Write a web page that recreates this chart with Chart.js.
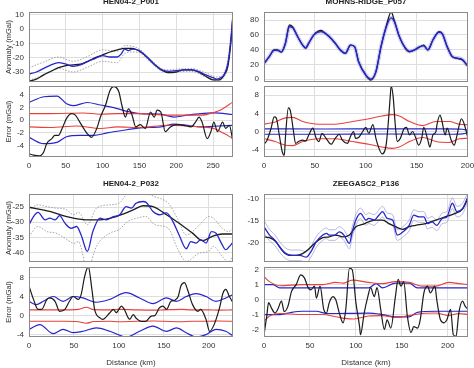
<!DOCTYPE html>
<html>
<head>
<meta charset="utf-8">
<script src="https://cdn.jsdelivr.net/npm/chart.js@4"></script>
<style>
  html, body { margin: 0; padding: 0; background: #fff; }
  #wrap { position: relative; width: 474px; height: 368px; overflow: hidden; }
  #wrap canvas { position: absolute; }
</style>
</head>
<body>
<div id="wrap"></div>
<script>
// ---- HEN04-2_P001 ----
const p001Ticks = { dist: [0, 50, 100, 150, 200, 250], anom: [-30, -20, -10, 0, 10], err: [-4, -2, 0, 2, 4] };
const p001Ship = [[0,-31.5],[10,-30],[20,-27.5],[30,-25],[40,-23.5],[50,-24.5],[60,-26],[70,-25],[80,-22.5],[90,-20.5],[100,-18.5],[110,-19.5],[120,-19.5],[125,-17.5],[130,-14],[135,-15],[140,-14],[150,-15],[160,-19.5],[170,-24.5],[180,-28.5],[190,-29.5],[200,-29],[210,-28.5],[220,-28.5],[230,-29.5],[240,-32],[250,-34],[255,-35],[260,-34],[265,-32],[270,-24],[274,-8],[277,10]];
const p001Model = [[0,-36.5],[10,-35],[20,-32],[30,-29.5],[40,-27],[50,-25.5],[60,-25],[70,-24.5],[80,-22.5],[90,-20],[100,-18],[110,-16],[120,-14.5],[130,-13.5],[140,-13.5],[150,-15.5],[160,-19.5],[170,-24.5],[180,-28.5],[190,-30.5],[200,-30],[210,-28.5],[220,-28.5],[230,-30],[240,-33],[250,-35.5],[258,-35.5],[265,-32],[270,-26],[274,-10],[277,10]];
const p001ShipHi = [[0,-27],[20,-23],[40,-19.5],[60,-22.5],[80,-19],[100,-14.5],[120,-15.5],[130,-11.5],[140,-12],[150,-14],[160,-18.5],[170,-23.5],[180,-27.5],[190,-28.5],[200,-28],[220,-27.5],[240,-30.5],[255,-33.5],[265,-30.5],[270,-22],[277,11]];
const p001ShipLo = [[0,-36],[20,-32],[40,-27.5],[60,-30],[80,-26.5],[100,-22.5],[120,-23.5],[130,-17],[140,-16],[150,-16.5],[160,-21],[170,-25.5],[180,-29.5],[190,-30.5],[200,-30],[220,-29.5],[240,-33.5],[255,-36],[265,-33.5],[270,-26],[277,9]];
const p001Diff = [[0,-5.3],[6,-5.5],[15,-5.6],[20,-5],[24,-3.7],[31,-2.9],[35,-2.4],[40,-2.4],[45,-1.3],[51,0.3],[58,1.05],[63,0.8],[70,-0.5],[79,-2.1],[85,-2.7],[92,-1.3],[97,0.5],[104,2.4],[110,4.7],[115,5.3],[122,4.5],[126,2.4],[131,0.5],[135,1.8],[140,0.8],[145,-1.05],[151,-0.7],[158,-1.3],[165,1.3],[170,0.5],[174,1.6],[179,1.3],[185,-1.8],[192,-1.05],[201,-0.7],[210,-0.8],[220,-1.05],[226,-0.3],[231,0.5],[235,-0.3],[242,-2.9],[247,-1.8],[251,-0.3],[256,-1.8],[263,-0.3],[267,-1.3],[272,-0.8],[277,-3.4]];
const p001BlueHi = [[0,2.8],[20,3.7],[38,3.8],[51,2.6],[60,2.3],[79,2.8],[97,2.4],[115,2.0],[133,1.4],[151,1.05],[179,0.95],[197,0.5],[215,0.8],[233,1.05],[251,1.15],[277,0.9]];
const p001BlueLo = [[0,-2.7],[20,-3.7],[38,-3.5],[51,-2.6],[69,-2.4],[88,-2.4],[106,-2.0],[133,-1.5],[151,-1.2],[179,-1.05],[197,-0.6],[215,-0.8],[233,-1.05],[251,-0.95],[277,-0.8]];
const p001RedHi = [[0,1.05],[29,1.05],[74,1.15],[97,0.95],[120,1.05],[151,1.05],[188,0.8],[233,0.8],[251,1.2],[260,1.6],[277,2.9]];
const p001RedLo = [[0,-1.05],[29,-1.15],[65,-0.9],[97,-1.3],[120,-1.05],[151,-1.15],[188,-0.8],[233,-1.05],[251,-1.3],[265,-2.1],[277,-2.9]];

// ---- MOHNS-RIDGE_P057 ----
const p057Ticks = { dist: [0, 50, 100, 150, 200], anom: [0, 20, 40, 60, 80], err: [-4, 0, 4, 8] };
const p057Model = [[0,21],[5,30],[10,39.5],[13,39.5],[17,36.5],[21,48.6],[25,73.6],[28,71],[33,57.7],[38,46],[41,41.8],[44,48.6],[49,60],[56,66],[59,63.6],[64,57.7],[70,48.6],[75,39.5],[80,35],[85,46],[89,44],[93,23.6],[100,5.5],[105,-1.4],[110,10],[115,44],[120,71],[125,91],[128,80],[133,57.7],[139,41.8],[143,37],[148,39.5],[152,43],[157,46],[161,39.5],[166,53],[172,64.5],[175,62],[180,44],[185,30.5],[190,28],[195,26],[200,18]];
const p057Ship = [[0,21],[5,30],[10,39],[13,39],[17,37],[21,48],[25,71],[28,70],[33,57.7],[38,46],[41,42.5],[44,49],[49,60],[56,64.5],[59,63],[64,57.7],[70,48.6],[75,39.5],[80,35],[85,46],[89,44],[93,23.6],[100,5.5],[105,0],[110,10],[115,44],[120,70],[125,83],[128,78],[133,57.7],[139,41.8],[143,37.5],[148,39.5],[152,43],[157,45],[161,39.5],[166,53],[172,63.5],[175,62],[180,44],[185,30.5],[190,28.5],[195,26.5],[200,18]];
const p057Diff = [[0,-2.8],[3,-1.9],[7,0.75],[10,3.2],[12,3],[15,-0.75],[18,-4.5],[20,-5.2],[21,-1.5],[24,5.2],[26,4.5],[29,0],[31,-2.6],[34,-2.2],[38,-1.9],[41,-2.1],[44,-0.75],[48,0.75],[51,-1.3],[54,-2.2],[57,-0.4],[61,-1.5],[66,-2.8],[70,-1.5],[74,-0.6],[77,-1.9],[82,-2.6],[85,-1.1],[88,0],[90,-1.5],[93,-1.3],[97,0],[100,0.9],[103,-0.4],[107,1.5],[110,-1.5],[113,-3.7],[116,-4.9],[120,-3],[122,1.5],[124,7.5],[125,10],[127,7.5],[129,1.5],[131,-2.2],[134,-1.5],[138,0.75],[140,0.9],[143,-0.75],[146,0],[149,-1.3],[152,-3],[155,-1.5],[157,0.9],[161,-1.9],[163,-3.4],[166,-0.75],[169,0],[170,1.5],[173,3.6],[175,2.2],[178,-0.75],[180,0.75],[184,-1.9],[187,-3],[189,-1.5],[192,1.5],[194,2.8],[197,1.5],[200,-1.1]];
const p057BlueHi = [[0,0.6],[60,0.55],[120,0.6],[180,0.6],[195,0.5],[200,0.3]];
const p057BlueLo = [[0,-0.6],[60,-0.6],[120,-0.55],[180,-0.6],[195,-0.5],[200,-0.3]];
const p057RedHi = [[0,1.6],[11,2.1],[21,3],[28,3.1],[38,2.2],[54,1.6],[70,1.6],[87,2.2],[103,2.8],[116,3.4],[126,3.7],[133,3.4],[143,2.2],[156,1.3],[169,2.2],[182,2.2],[192,1.6],[200,1.5]];
const p057RedLo = [[0,-1.6],[11,-2.2],[21,-3],[28,-3.1],[38,-2.2],[54,-1.6],[70,-1.6],[87,-2.2],[103,-2.8],[116,-3.4],[126,-3.7],[133,-3.4],[143,-2.2],[156,-1.3],[169,-2.2],[182,-2.4],[192,-1.6],[200,-1.5]];

// ---- HEN04-2_P032 ----
const p032Ticks = { dist: [0, 50, 100, 150, 200], anom: [-40, -35, -30, -25], err: [-4, 0, 4, 8] };
const p032Ship = [[0,-30.8],[5,-28.1],[10,-26.7],[18,-29.2],[23,-28.6],[29,-29.2],[34,-27.8],[40,-30.3],[47,-32],[53,-31.4],[58,-34.2],[65,-39.7],[71,-33.1],[79,-28.6],[86,-29.2],[94,-28.1],[101,-27.5],[108,-24.8],[114,-25.3],[119,-23.7],[127,-23.1],[130,-23.3],[138,-26.4],[145,-27.5],[153,-26.9],[160,-29.7],[167,-34.2],[175,-38.8],[180,-36.4],[186,-36.9],[191,-35.8],[197,-36.9],[203,-33.1],[208,-33.6],[214,-36.9],[219,-39.1],[223,-38],[227,-36.6]];
const p032Model = [[0,-25],[23,-26.4],[42,-28.1],[64,-29.2],[79,-29.2],[97,-28.1],[116,-25.9],[127,-24.5],[138,-24.8],[153,-27.5],[167,-30.3],[182,-33.6],[193,-36.1],[204,-34.7],[215,-33.9],[227,-33.9]];
const p032ShipHi = [[0,-25.9],[10,-24.2],[20,-24.8],[30,-25.3],[40,-25.6],[50,-27.5],[55,-26.7],[65,-30.8],[75,-25.3],[90,-24.2],[100,-23.7],[110,-20.4],[120,-19.8],[130,-20.4],[140,-21.5],[155,-23.7],[165,-28.6],[175,-34.2],[190,-30.8],[200,-28.1],[205,-28.6],[215,-32],[222,-33.1],[227,-32]];
const p032ShipLo = [[0,-34.7],[10,-31.4],[20,-33.1],[30,-33.6],[40,-35.3],[50,-37],[55,-36.4],[65,-45.8],[75,-38],[90,-33.6],[100,-32.5],[110,-29.7],[120,-28.6],[130,-28.1],[140,-30.8],[155,-32],[165,-38.6],[175,-43],[190,-40.2],[200,-39.7],[205,-38],[215,-41.3],[222,-43.2],[227,-41.3]];
const p032Diff = [[0,6.2],[5,3.4],[10,1.3],[14,1.3],[20,3.4],[23,3.7],[29,3],[34,0.9],[40,1.3],[45,3],[49,4],[55,3.4],[58,4.4],[62,8.3],[66,10.3],[70,5.5],[73,1.3],[79,-0.5],[82,-0.8],[90,0.6],[94,1.3],[97,0.6],[103,2],[106,1.3],[112,-0.8],[116,0.2],[119,-0.5],[125,-1.2],[130,-1.2],[136,-0.1],[140,0],[145,1.6],[149,2],[153,1.3],[158,3],[162,3.2],[166,4],[169,6.2],[173,6.9],[177,5.1],[182,2.3],[188,0.9],[191,1.3],[197,-0.8],[201,-3.3],[206,-1.9],[212,1.6],[216,4.8],[219,5.5],[223,4],[227,2.7]];
const p032BlueHi = [[0,3],[8,2.3],[16,3],[27,4],[38,3],[49,4],[60,3.7],[75,2.8],[90,3.4],[108,4.8],[123,3.7],[138,2.5],[153,3.7],[164,3],[175,4],[186,4.6],[197,4],[208,3],[219,3.7],[227,4.4]];
const p032BlueLo = [[0,-2.9],[12,-1.9],[27,-3.8],[38,-2.9],[49,-3.6],[60,-3.3],[75,-2.6],[90,-3.3],[108,-4.5],[123,-3.3],[138,-2.2],[153,-3.3],[164,-2.6],[175,-3.6],[186,-4.5],[197,-4],[208,-2.9],[219,-3.3],[227,-4.3]];
const p032RedHi = [[0,1.2],[20,1.2],[40,1.2],[55,1.3],[64,1.75],[72,1.25],[90,1.2],[100,1.3],[120,1.2],[140,1.15],[150,1.2],[170,1.3],[180,1.2],[200,1.2],[210,1.15],[227,1.2]];
const p032RedLo = [[0,-1.2],[20,-1.2],[40,-1.2],[55,-1.3],[64,-1.6],[72,-1.25],[90,-1.2],[100,-1.3],[120,-1.2],[140,-1.15],[150,-1.2],[170,-1.3],[180,-1.2],[200,-1.2],[210,-1.15],[227,-1.2]];

// ---- ZEEGASC2_P136 ----
const p136Ticks = { dist: [0, 50, 100, 150, 200], anom: [-20, -15, -10], err: [-2, -1, 0, 1, 2] };
const p136Ship = [[0,-16.4],[6,-18.3],[12,-19.5],[17,-21],[24,-22.5],[31,-22.9],[39,-22.9],[46,-23.3],[51,-22.1],[57,-19.8],[64,-18.3],[68,-17.9],[71,-18.3],[77,-18.3],[82,-17.6],[87,-18.3],[93,-20.2],[96,-17.6],[100,-14.9],[105,-13.4],[111,-14.9],[114,-14.5],[120,-14.9],[125,-13.8],[129,-13],[134,-14.5],[140,-14.9],[145,-18.3],[151,-17.6],[158,-16.1],[163,-13.8],[169,-14.2],[174,-14.2],[178,-15.7],[183,-15.3],[188,-16.1],[194,-14.5],[199,-14.2],[205,-11.1],[210,-13],[216,-12.3],[222,-9.6]];
const p136Model = [[0,-18.7],[6,-18.9],[13,-19.8],[21,-22.1],[28,-22.9],[35,-22.9],[42,-22.5],[49,-21.4],[57,-19.8],[64,-18.9],[71,-18.7],[78,-18.3],[86,-18.7],[93,-18.3],[100,-16.4],[107,-15.9],[114,-15.3],[122,-14.9],[129,-14.9],[136,-15.7],[143,-16.4],[151,-17],[158,-16.4],[165,-16.1],[176,-15.7],[187,-14.9],[197,-14.2],[208,-13.4],[216,-12.4],[222,-10]];
const p136ShipHi = [[0,-15],[6,-17],[12,-18.3],[17,-19.8],[24,-21.3],[31,-21.7],[39,-21.7],[46,-22.1],[51,-20.9],[57,-18.6],[64,-17.1],[68,-16.7],[71,-17.1],[77,-17.1],[82,-16.4],[87,-17.1],[93,-19],[96,-16.4],[100,-13.7],[105,-12.2],[111,-13.7],[114,-13.3],[120,-13.7],[125,-12.6],[129,-11.8],[134,-13.3],[140,-13.7],[145,-17.1],[151,-16.4],[158,-14.9],[163,-12.6],[169,-13],[174,-13],[178,-14.5],[183,-14.1],[188,-14.9],[194,-13.3],[199,-13],[205,-9.9],[210,-11.8],[216,-11.1],[222,-8.6]];
const p136ShipLo = [[0,-17.8],[6,-19.6],[12,-20.7],[17,-22.2],[24,-23.7],[31,-24.1],[39,-24.1],[46,-24.5],[51,-23.3],[57,-21],[64,-19.5],[68,-19.1],[71,-19.5],[77,-19.5],[82,-18.8],[87,-19.5],[93,-21.4],[96,-18.8],[100,-16.1],[105,-14.6],[111,-16.1],[114,-15.7],[120,-16.1],[125,-15],[129,-14.2],[134,-15.7],[140,-16.1],[145,-19.5],[151,-18.8],[158,-17.3],[163,-15],[169,-15.4],[174,-15.4],[178,-16.9],[183,-16.5],[188,-17.3],[194,-15.7],[199,-15.4],[205,-12.3],[210,-14.2],[216,-13.5],[222,-10.6]];
const p136Diff = [[0,-2.35],[3,-1.1],[5,-0.2],[8,-0.55],[12,-0.9],[15,-0.65],[19,-0.1],[22,-0.8],[26,-0.45],[30,0.55],[35,1.0],[40,1.65],[44,1.45],[48,0.8],[51,0.65],[55,0.9],[57,0.1],[61,0.9],[65,-0.65],[68,-0.9],[71,-0.2],[75,0.2],[78,0],[82,-0.9],[86,-1.55],[89,-0.65],[93,2.1],[96,2],[100,-0.2],[104,-1.8],[105,-2.35],[109,-0.9],[113,0.2],[116,0.8],[120,0.2],[123,0.8],[127,-0.65],[131,-2],[134,-1.35],[138,-1.9],[143,0.2],[146,1.35],[149,0.9],[152,1.2],[156,-1.1],[160,-2.2],[163,-1.8],[167,-1.9],[170,-1.35],[174,0.45],[178,0.9],[181,0.45],[186,0.9],[188,0],[192,-1.35],[196,-1.55],[199,-1.35],[203,-0.65],[206,-2.35],[209,-2.45],[212,-0.9],[216,-0.1],[219,-0.45],[222,-0.65]];
const p136BlueHi = [[0,1.0],[10,1.0],[17,0.78],[42,0.78],[114,0.78],[122,1.07],[129,0.78],[143,1.1],[158,1.1],[167,0.78],[187,0.78],[222,0.78]];
const p136BlueLo = [[0,-1],[17,-1],[30,-0.85],[42,-0.78],[57,-0.78],[68,-0.93],[114,-0.9],[129,-1],[143,-1.15],[158,-1.15],[167,-0.85],[187,-0.78],[222,-0.78]];
const p136RedHi = [[0,1.55],[6,1.2],[17,0.93],[42,1.0],[64,1.0],[78,1.15],[86,1.1],[96,1.3],[114,1.15],[129,1.07],[143,1.2],[158,1.15],[172,0.9],[187,0.9],[201,1.15],[212,1.07],[222,1.0]];
const p136RedLo = [[0,-1.45],[6,-1.1],[17,-0.93],[42,-1.0],[64,-1.0],[78,-1.15],[96,-1.3],[114,-1.1],[129,-1.07],[143,-1.2],[158,-1.07],[172,-0.93],[187,-0.9],[201,-1.07],[212,-0.93],[222,-1.0]];

const BLACK = '#1c1c1c', BLUE = '#2626cc', RED = '#e8403a', GREY = '#8e8e8e';
Chart.defaults.font.family = "'Liberation Sans', Arial, sans-serif";
Chart.defaults.color = '#333';

// box round each plot
const framePlugin = {
  id: 'frame',
  afterDatasetsDraw(chart) {
    const { ctx, chartArea: a } = chart;
    ctx.save();
    ctx.strokeStyle = '#8a8a8a';
    ctx.lineWidth = 1;
    ctx.strokeRect(a.left + 0.5, a.top + 0.5, a.right - a.left - 1, a.bottom - a.top - 1);
    ctx.restore();
  }
};

function line(arr, color, width, extra) {
  return Object.assign({
    data: arr.map(([x, y]) => ({ x, y })),
    borderColor: color, borderWidth: width, pointRadius: 0, fill: false,
    cubicInterpolationMode: 'monotone', clip: 0
  }, extra || {});
}

function panel(p) {
  const padTop = 4, padRight = 8;
  const titleH = p.title ? 14 : 0;
  const c = document.createElement('canvas');
  c.width = p.axisW + (p.right - p.left) + padRight;
  c.height = padTop + titleH + (p.bottom - p.top) + p.xAxisH;
  c.style.left = (p.left - p.axisW) + 'px';
  c.style.top = (p.top - titleH - padTop) + 'px';
  document.getElementById('wrap').appendChild(c);

  new Chart(c.getContext('2d'), {
    type: 'line',
    data: { datasets: p.datasets },
    plugins: [framePlugin],
    options: {
      responsive: false, animation: false, devicePixelRatio: 1,
      layout: { padding: { top: padTop, right: padRight, bottom: 0, left: 0 } },
      plugins: {
        legend: { display: false }, tooltip: { enabled: false },
        title: {
          display: !!p.title, text: p.title, fullSize: false, color: '#222',
          font: { size: 8, weight: 'bold', lineHeight: 1 }, padding: { top: 0, bottom: 6 }
        }
      },
      scales: {
        x: {
          type: 'linear', min: 0, max: p.xMax,
          afterBuildTicks: s => { s.ticks = p.xTicks.map(v => ({ value: v })); },
          afterFit: s => { s.height = p.xAxisH; s.paddingLeft = 0; s.paddingRight = 0; },
          ticks: { display: p.xLabels, font: { size: 8 }, padding: 4, maxRotation: 0, autoSkip: false },
          grid: { color: '#dedede', drawTicks: false },
          border: { display: false },
          title: { display: !!p.xTitle, text: p.xTitle, font: { size: 8 }, padding: { top: 0, bottom: 0 } }
        },
        y: {
          type: 'linear', min: p.yMin, max: p.yMax,
          afterBuildTicks: s => { s.ticks = p.yTicks.map(v => ({ value: v })); },
          afterFit: s => { s.width = p.axisW; s.paddingTop = 0; s.paddingBottom = 0; },
          ticks: { font: { size: 8 }, padding: 5, autoSkip: false },
          grid: { color: '#dedede', drawTicks: false },
          border: { display: false },
          title: { display: !!p.yTitle, text: p.yTitle, font: { size: 7.5 }, padding: { top: 4, bottom: 0 } }
        }
      }
    }
  });
}

function anomSets(ship, model, hi, lo, halo) {
  const sets = [line(ship, BLUE, 1.3), line(model, BLACK, 1.3)];
  if (halo) sets.push(line(ship, 'rgba(120,120,235,0.35)', 4));
  if (hi) {
    sets.push(line(hi, halo === false ? 'rgba(130,130,200,0.7)' : GREY, 0.8, { borderDash: halo === false ? [] : [1.5, 1.5] }));
    sets.push(line(lo, halo === false ? 'rgba(130,130,200,0.7)' : GREY, 0.8, { borderDash: halo === false ? [] : [1.5, 1.5] }));
  }
  return sets;
}

function errSets(diff, redHi, redLo, blueHi, blueLo) {
  return [line(diff, BLACK, 1.2), line(redHi, RED, 1.1), line(redLo, RED, 1.1),
          line(blueHi, BLUE, 1.2), line(blueLo, BLUE, 1.2)];
}

// top left
panel({ left: 29, right: 233, top: 12, bottom: 82, axisW: 29, xAxisH: 0, title: 'HEN04-2_P001',
  yTitle: 'Anomaly (mGal)', xMax: 277, yMin: -37, yMax: 12, xTicks: p001Ticks.dist, yTicks: p001Ticks.anom,
  xLabels: false, datasets: anomSets(p001Ship, p001Model, p001ShipHi, p001ShipLo) });
panel({ left: 29, right: 233, top: 86, bottom: 157, axisW: 29, xAxisH: 14,
  yTitle: 'Error (mGal)', xMax: 277, yMin: -5.8, yMax: 5.4, xTicks: p001Ticks.dist, yTicks: p001Ticks.err,
  xLabels: true, datasets: errSets(p001Diff, p001RedHi, p001RedLo, p001BlueHi, p001BlueLo) });

// top right
panel({ left: 264, right: 468, top: 12, bottom: 82, axisW: 30, xAxisH: 0, title: 'MOHNS-RIDGE_P057',
  xMax: 200.5, yMin: -4, yMax: 91, xTicks: p057Ticks.dist, yTicks: p057Ticks.anom,
  xLabels: false, datasets: anomSets(p057Ship, p057Model, null, null, true) });
panel({ left: 264, right: 468, top: 86, bottom: 157, axisW: 30, xAxisH: 14,
  xMax: 200.5, yMin: -5.6, yMax: 10, xTicks: p057Ticks.dist, yTicks: p057Ticks.err,
  xLabels: true, datasets: errSets(p057Diff, p057RedHi, p057RedLo, p057BlueHi, p057BlueLo) });

// bottom left
panel({ left: 29, right: 233, top: 194, bottom: 262, axisW: 29, xAxisH: 0, title: 'HEN04-2_P032',
  yTitle: 'Anomaly (mGal)', xMax: 227, yMin: -43.2, yMax: -20.6, xTicks: p032Ticks.dist, yTicks: p032Ticks.anom,
  xLabels: false, datasets: anomSets(p032Ship, p032Model, p032ShipHi, p032ShipLo) });
panel({ left: 29, right: 233, top: 267, bottom: 337, axisW: 29, xAxisH: 31,
  yTitle: 'Error (mGal)', xTitle: 'Distance (km)', xMax: 227, yMin: -4.5, yMax: 10.2, xTicks: p032Ticks.dist, yTicks: p032Ticks.err,
  xLabels: true, datasets: errSets(p032Diff, p032RedHi, p032RedLo, p032BlueHi, p032BlueLo) });

// bottom right
panel({ left: 264, right: 468, top: 194, bottom: 262, axisW: 30, xAxisH: 0, title: 'ZEEGASC2_P136',
  xMax: 222, yMin: -24.4, yMax: -9, xTicks: p136Ticks.dist, yTicks: p136Ticks.anom,
  xLabels: false, datasets: anomSets(p136Ship, p136Model, p136ShipHi, p136ShipLo, false) });
panel({ left: 264, right: 468, top: 267, bottom: 337, axisW: 30, xAxisH: 31,
  xTitle: 'Distance (km)', xMax: 222, yMin: -2.5, yMax: 2.18, xTicks: p136Ticks.dist, yTicks: p136Ticks.err,
  xLabels: true, datasets: errSets(p136Diff, p136RedHi, p136RedLo, p136BlueHi, p136BlueLo) });
</script>
</body>
</html>
